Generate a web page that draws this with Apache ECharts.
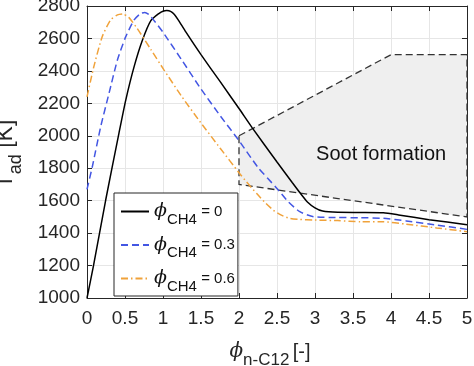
<!DOCTYPE html>
<html><head><meta charset="utf-8">
<script src="https://cdn.jsdelivr.net/npm/echarts@6/dist/echarts.min.js"></script>
<style>html,body{margin:0;padding:0;background:#fff}#c{width:474px;height:366px}</style>
</head><body><div id="c"></div>
<script>
// ---- data ----
const seriesNames = ['phi_CH4 = 0', 'phi_CH4 = 0.3', 'phi_CH4 = 0.6'];
const legendValues = ['0', '0.3', '0.6'];

const blackX = [0, 0.083, 0.246, 0.42, 0.51, 0.62, 0.73, 0.84, 0.95, 1.0, 1.05, 1.1, 1.15, 1.2, 1.3, 1.5, 1.75, 2.0, 2.17, 2.5, 2.7, 2.8, 2.9, 3.0, 3.1, 3.3, 3.6, 3.9, 4.1, 4.5, 5.0];
const blackT = [1000, 1193, 1604, 2015, 2220, 2426, 2590, 2710, 2755, 2768, 2772, 2767, 2748, 2715, 2640, 2500, 2335, 2168, 2052, 1838, 1712, 1650, 1592, 1556, 1536, 1528, 1527, 1525, 1512, 1483, 1452];

const blueX = [0, 0.07, 0.18, 0.29, 0.40, 0.51, 0.62, 0.70, 0.76, 0.82, 0.90, 1.0, 1.25, 1.49, 1.75, 2.0, 2.25, 2.5, 2.65, 2.8, 2.98, 3.3, 3.6, 3.9, 4.2, 4.6, 5.0];
const blueT = [1670, 1809, 2056, 2262, 2467, 2611, 2714, 2752, 2760, 2745, 2700, 2638, 2465, 2295, 2125, 1970, 1805, 1675, 1592, 1532, 1501, 1496, 1495, 1491, 1475, 1450, 1423];

const orangeX = [0, 0.09, 0.20, 0.31, 0.40, 0.47, 0.55, 0.66, 0.84, 1.01, 1.25, 1.49, 1.75, 2.0, 2.1, 2.23, 2.35, 2.45, 2.55, 2.67, 2.8, 2.98, 3.3, 3.6, 3.9, 4.2, 4.6, 5.0];
const orangeT = [2240, 2426, 2611, 2714, 2745, 2751, 2730, 2662, 2532, 2408, 2240, 2085, 1925, 1772, 1715, 1645, 1585, 1542, 1512, 1491, 1484, 1481, 1477, 1470, 1470, 1455, 1432, 1409];

const sootX = [2, 4, 5, 5, 2];
const sootT = [2000, 2500, 2500, 1500, 1700];
const sootLabel = 'Soot formation';
const sootLabelPos = [3.87, 1885];

const xMin = 0, xMax = 5, xStep = 0.5;
const yMin = 1000, yMax = 2800, yStep = 200;

// ---- chart ----
const FONT = '"Liberation Sans", Arial, sans-serif';
const AX = '#262626';
const pair = (xs, ys) => xs.map((x, i) => [x, ys[i]]);

const chart = echarts.init(document.getElementById('c'), null, {renderer: 'canvas'});

function baseX(pos, labels) {
  return {
    type: 'value', min: xMin, max: xMax, interval: xStep, position: pos,
    axisLine: {show: true, onZero: false, lineStyle: {color: AX, width: 1}},
    axisTick: {show: true, inside: true, length: 5, lineStyle: {color: AX}},
    axisLabel: {show: labels, fontSize: 19, color: AX, margin: 11, fontFamily: FONT,
                formatter: (v) => String(v)},
    splitLine: {show: labels, lineStyle: {color: '#e6e6e6', width: 1}}
  };
}
function baseY(pos, labels) {
  return {
    type: 'value', min: yMin, max: yMax, interval: yStep, position: pos,
    axisLine: {show: true, onZero: false, lineStyle: {color: AX, width: 1}},
    axisTick: {show: true, inside: true, length: 5, lineStyle: {color: AX}},
    axisLabel: {show: labels, fontSize: 19, color: AX, margin: 7, fontFamily: FONT,
                formatter: (v) => String(v)},
    splitLine: {show: labels, lineStyle: {color: '#e6e6e6', width: 1}}
  };
}

const lineCommon = {type: 'line', symbol: 'none', smooth: 0.2, z: 3, silent: true, animation: false};

const option = {
  animation: false,
  backgroundColor: '#fff',
  grid: {left: 87, top: 6, width: 380, height: 292, containLabel: false, outerBoundsMode: 'none'},
  xAxis: [baseX('bottom', true), baseX('top', false)],
  yAxis: [baseY('left', true), baseY('right', false)],
  legend: {
    orient: 'vertical', left: 114, top: 193,
    padding: [3, 3, 2, 6], itemGap: 2.5, itemWidth: 28, itemHeight: 14,
    backgroundColor: '#fff', borderColor: AX, borderWidth: 1, borderRadius: 0,
    selectedMode: false,
    itemStyle: {opacity: 0, color: 'transparent', borderColor: 'transparent', borderWidth: 0},
    data: seriesNames,
    formatter: (name) => '{p|ϕ}{s|CH4}{m| = ' + legendValues[seriesNames.indexOf(name)] + '}',
    textStyle: {
      fontFamily: FONT, color: '#111',
      rich: {
        p: {fontSize: 19, fontStyle: 'italic', fontFamily: '"DejaVu Serif", serif', lineHeight: 16, color: '#111'},
        s: {fontSize: 15, fontFamily: FONT, lineHeight: 16, padding: [16, 0, 0, 0], color: '#111'},
        m: {fontSize: 15, fontFamily: FONT, lineHeight: 16, color: '#111'}
      }
    }
  },
  graphic: [
    {
      type: 'text', x: 270, y: 352, silent: true,
      style: {
        text: '{p|ϕ}{s|n-C12} {m|[-]}', align: 'center', verticalAlign: 'middle',
        rich: {
          p: {fontSize: 20, fontStyle: 'italic', fontFamily: '"DejaVu Serif", serif', lineHeight: 18, fill: '#262626'},
          s: {fontSize: 17, fontFamily: FONT, lineHeight: 18, padding: [16, 0, 0, 0], fill: '#262626'},
          m: {fontSize: 20, fontFamily: FONT, lineHeight: 18, fill: '#262626'}
        }
      }
    },
    {
      type: 'text', x: 6, y: 154, rotation: Math.PI / 2, silent: true,
      style: {
        text: '{m|T}{s|ad}{m| [K]}', align: 'center', verticalAlign: 'middle',
        rich: {
          m: {fontSize: 23, fontFamily: FONT, lineHeight: 18, fill: '#262626'},
          s: {fontSize: 18, fontFamily: FONT, lineHeight: 18, padding: [20, 0, 0, 0], fill: '#262626'}
        }
      }
    }
  ],
  series: [
    {
      type: 'custom', name: 'soot', silent: true, z: 2,
      data: pair(sootX, sootT),
      renderItem: function (params, api) {
        if (params.dataIndex !== 0) return null;
        const pts = sootX.map((x, i) => api.coord([x, sootT[i]]));
        const lp = api.coord(sootLabelPos);
        return {
          type: 'group',
          children: [
            {type: 'polygon', shape: {points: pts},
             style: {fill: '#efefef', stroke: '#333', lineWidth: 1.3, lineDash: [7, 4]}},
            {type: 'text', x: lp[0], y: lp[1],
             style: {text: sootLabel, font: '20px ' + FONT, fill: '#111', align: 'center', verticalAlign: 'middle'}}
          ]
        };
      }
    },
    Object.assign({}, lineCommon, {name: seriesNames[0], data: pair(blackX, blackT),
      lineStyle: {color: '#000', width: 1.5, type: 'solid'}, itemStyle: {color: '#000'}}),
    Object.assign({}, lineCommon, {name: seriesNames[1], data: pair(blueX, blueT),
      lineStyle: {color: '#4356e3', width: 1.5, type: [7, 4]}, itemStyle: {color: '#4356e3'}}),
    Object.assign({}, lineCommon, {name: seriesNames[2], data: pair(orangeX, orangeT),
      lineStyle: {color: '#f0a23a', width: 1.5, type: [7, 3, 1.5, 3]}, itemStyle: {color: '#f0a23a'}})
  ]
};
chart.setOption(option);
</script>
</body></html>
